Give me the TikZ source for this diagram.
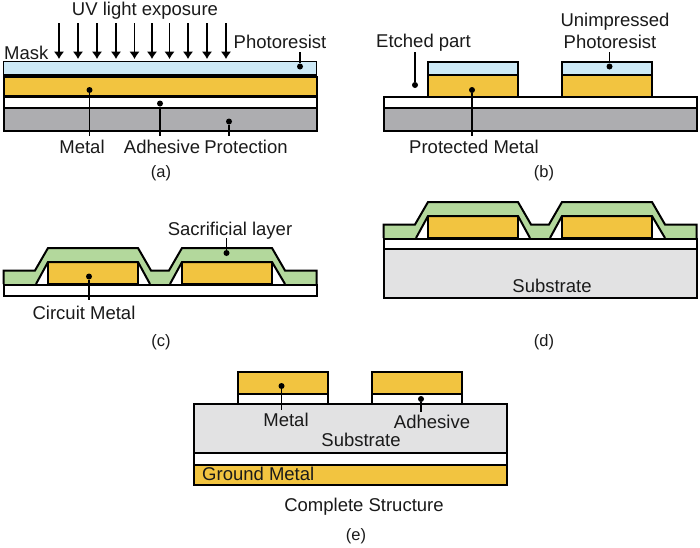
\documentclass[tikz,border=0pt]{standalone}
\usepackage{fontspec}
\setmainfont{Liberation Sans}
\usetikzlibrary{arrows.meta}
\definecolor{cblue}{HTML}{CDE9F6}
\definecolor{cgold}{HTML}{F2C440}
\definecolor{cgray}{HTML}{ADADB0}
\definecolor{cgreen}{HTML}{B3D89C}
\definecolor{clight}{HTML}{E2E2E3}
\definecolor{cink}{HTML}{1A1A1A}
\tikzset{
  x=1pt,y=-1pt,
  layer/.style={draw=black,line width=2pt,line join=miter},
  lbl/.style={font=\fontsize{18.5}{22}\selectfont,text=cink,inner sep=0pt,anchor=base},
  lbll/.style={lbl,anchor=base west},
  caplbl/.style={lbl,font=\fontsize{16.5}{20}\selectfont},
  dot/.style={circle,fill=black,inner sep=0pt,minimum size=6pt},
  leader/.style={draw=black,line width=1.3pt},
  uv/.style={draw=black,line width=1.2pt,-{Latex[length=7.5pt,width=10.5pt]}},
}
\newcommand{\greenstack}{%
  \fill[white] (3.5,284.5) rectangle (316.5,295.5);
  \fill[white] (36,284) -- (48,262) -- (48,284) -- cycle;
  \fill[white] (138,262) -- (150,284) -- (138,284) -- cycle;
  \fill[white] (170,284) -- (182,262) -- (182,284) -- cycle;
  \fill[white] (272,262) -- (285,284) -- (272,284) -- cycle;
  \filldraw[layer,fill=cgold] (48,284) rectangle (138,262);
  \filldraw[layer,fill=cgold] (182,284) rectangle (272,262);
  \fill[cgreen] (3.5,284) -- (3.5,270.5) -- (35,270.5) -- (48,248) -- (138,248) -- (151,270.5) -- (169,270.5) -- (182,248) -- (272,248) -- (285,270.5) -- (316.5,270.5) -- (316.5,284) -- (285,284) -- (272,262) -- (182,262) -- (170,284) -- (150,284) -- (138,262) -- (48,262) -- (36,284) -- cycle;
  \draw[layer] (3.5,284) -- (3.5,270.5) -- (35,270.5) -- (48,248) -- (138,248) -- (151,270.5) -- (169,270.5) -- (182,248) -- (272,248) -- (285,270.5) -- (316.5,270.5) -- (316.5,284);
  \draw[layer] (36,284) -- (48,262) -- (138,262) -- (150,284);
  \draw[layer] (170,284) -- (182,262) -- (272,262) -- (285,284);
  \draw[layer] (3.5,284.5) rectangle (316.5,295.5);
}
\begin{document}
\begin{tikzpicture}
\useasboundingbox (0,0) rectangle (700,547);
\fill[white] (0,0) rectangle (700,547);

% (a)
\filldraw[layer,fill=cgray] (3.5,108) rectangle (316.5,131);
\filldraw[layer,fill=white] (3.5,97) rectangle (316.5,108);
\filldraw[layer,fill=cgold] (3.5,76.5) rectangle (316.5,96);
\filldraw[layer,fill=cblue,line width=1.2pt] (3.5,61.5) rectangle (316.5,75);
\foreach \i/\ax in {1/59,2/78,3/97,4/116,5/134.5,6/152,7/169.5,8/188,9/207,10/226}{
  \coordinate (uvs\i) at (\ax,23);
  \coordinate (uve\i) at (\ax,59);
  \draw[uv] (uvs\i) -- (uve\i);
}
\node[lbl] (tuv) at (145,15.7) {UV light exposure};
\node[lbll] (tmask) at (4,59) {Mask};
\node[lbl] (tph) at (280,48) {Photoresist};
\node[lbl] (tme) at (82,153) {Metal};
\node[lbl] (tad) at (162,153) {Adhesive};
\node[lbl] (tpr) at (246,153) {Protection};
\node[caplbl] (ca) at (161,177) {(a)};
\node[dot] (d1) at (300,66.5) {}; \coordinate (e1) at (300,52); \draw[leader] (d1) -- (e1);
\node[dot] (d2) at (89.5,90) {}; \coordinate (e2) at (89.5,136); \draw[leader] (d2) -- (e2);
\node[dot] (d3) at (160,103.5) {}; \coordinate (e3) at (160,136); \draw[leader] (d3) -- (e3);
\node[dot] (d4) at (229,121.5) {}; \coordinate (e4) at (229,136); \draw[leader] (d4) -- (e4);

% (b)
\filldraw[layer,fill=cgray] (383.5,108) rectangle (696.5,131);
\filldraw[layer,fill=white] (383.5,97) rectangle (696.5,108);
\foreach \bx in {428,562}{
  \filldraw[layer,fill=cgold] (\bx,75) rectangle (\bx+89.5,97);
  \filldraw[layer,fill=cblue] (\bx,62) rectangle (\bx+89.5,75);
}
\node[lbll] (tet) at (376,47) {Etched part};
\node[lbl] (tun) at (615,26) {Unimpressed};
\node[lbl] (tph2) at (610,48.7) {Photoresist};
\node[lbl] (tpm) at (474,153) {Protected Metal};
\node[caplbl] (cb) at (544,177) {(b)};
\node[dot] (d5) at (415,85) {}; \coordinate (e5) at (415,52); \draw[leader] (d5) -- (e5);
\node[dot] (d6) at (609.5,66.5) {}; \coordinate (e6) at (609.5,52); \draw[leader] (d6) -- (e6);
\node[dot] (d7) at (472,90) {}; \coordinate (e7) at (472,136); \draw[leader] (d7) -- (e7);

% (c)
\greenstack
\node[lbl] (tsa) at (230,235) {Sacrificial layer};
\node[lbl] (tci) at (84,319) {Circuit Metal};
\node[caplbl] (cc) at (161,346) {(c)};
\node[dot] (d8) at (226.5,253) {}; \coordinate (e8) at (226.5,238); \draw[leader] (d8) -- (e8);
\node[dot] (d9) at (89,276.5) {}; \coordinate (e9) at (89,300); \draw[leader] (d9) -- (e9);

% (d)
\begin{scope}[shift={(380,-46)}]
  \greenstack
\end{scope}
\filldraw[layer,fill=clight] (383.5,249) rectangle (696.5,297.5);
\node[lbl] (tsu) at (552,292) {Substrate};
\node[caplbl] (cd) at (544,346) {(d)};

% (e)
\filldraw[layer,fill=clight] (193.5,404) rectangle (506.5,453);
\filldraw[layer,fill=white] (193.5,453) rectangle (506.5,464.5);
\filldraw[layer,fill=cgold] (193.5,465) rectangle (506.5,485);
\foreach \bx in {238,372}{
  \filldraw[layer,fill=white] (\bx,394) rectangle (\bx+89.5,404);
  \filldraw[layer,fill=cgold] (\bx,372) rectangle (\bx+89.5,394);
}
\node[lbl] (tm2) at (286,426) {Metal};
\node[lbl] (ta2) at (432,428) {Adhesive};
\node[lbl] (ts2) at (361,446) {Substrate};
\node[lbll] (tgr) at (202,480) {Ground Metal};
\node[lbl] (tco) at (364,511) {Complete Structure};
\node[caplbl] (ce) at (356,540) {(e)};
\node[dot] (d10) at (281.5,386) {}; \coordinate (e10) at (281.5,410); \draw[leader] (d10) -- (e10);
\node[dot] (d11) at (421,399) {}; \coordinate (e11) at (421,412); \draw[leader] (d11) -- (e11);
\end{tikzpicture}
\end{document}
